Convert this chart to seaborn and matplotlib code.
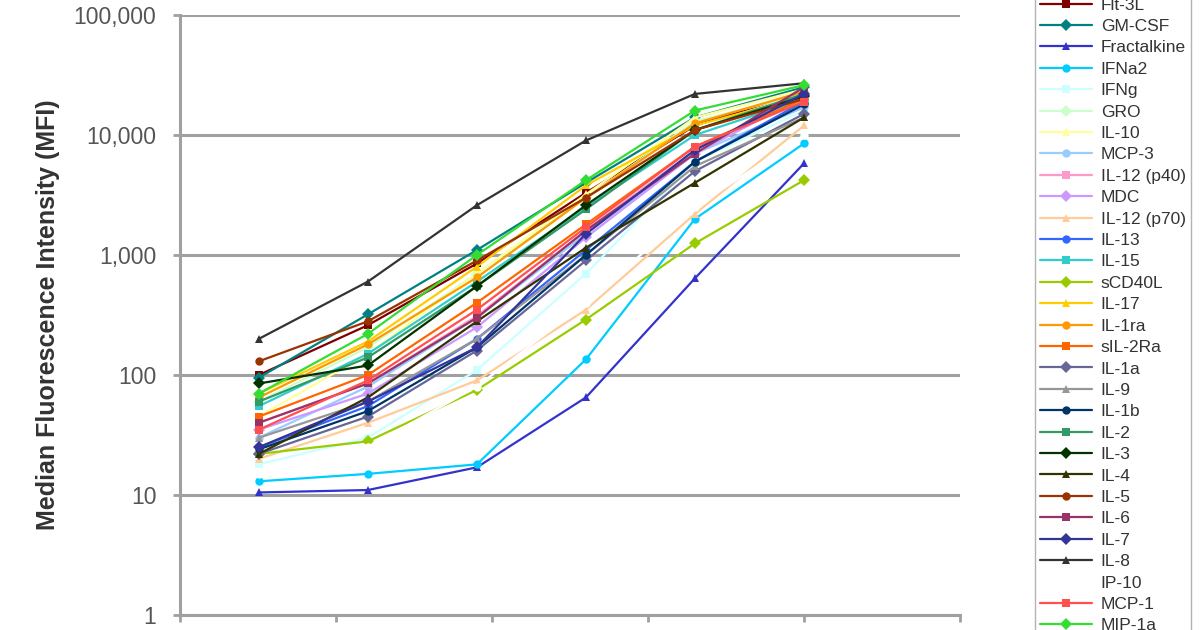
import pandas as pd
import matplotlib
matplotlib.use('Agg')
import matplotlib.pyplot as plt
import matplotlib.ticker as mticker
import seaborn as sns

# standard concentrations (pg/mL), 5-fold dilutions
conc = [3.2, 16, 80, 400, 2000, 10000]

analytes = ["Flt-3L", "GM-CSF", "Fractalkine", "IFNa2", "IFNg", "GRO", "IL-10", "MCP-3",
            "IL-12 (p40)", "MDC", "IL-12 (p70)", "IL-13", "IL-15", "sCD40L", "IL-17",
            "IL-1ra", "sIL-2Ra", "IL-1a", "IL-9", "IL-1b", "IL-2", "IL-3", "IL-4",
            "IL-5", "IL-6", "IL-7", "IL-8", "IP-10", "MCP-1", "MIP-1a"]

# median MFI, one list per analyte
mfi = {
    "Flt-3L":      [100, 260, 850, 3300, 12000, 23000],
    "GM-CSF":      [95, 320, 1100, 4000, 14000, 25000],
    "Fractalkine": [10.5, 11, 17, 65, 640, 5800],
    "IFNa2":       [13, 15, 18, 135, 2000, 8500],
    "IFNg":        [18, 30, 110, 700, 6000, 16000],
    "GRO":         [60, 170, 700, 3000, 13000, 22000],
    "IL-10":       [45, 150, 700, 3200, 14000, 24000],
    "MCP-3":       [30, 80, 300, 1500, 7000, 17000],
    "IL-12 (p40)": [40, 85, 310, 1600, 7500, 22000],
    "MDC":         [35, 70, 250, 1400, 7000, 21000],
    "IL-12 (p70)": [20, 40, 90, 350, 2200, 12000],
    "IL-13":       [25, 55, 200, 1100, 6000, 19000],
    "IL-15":       [55, 150, 600, 2500, 10000, 20000],
    "sCD40L":      [22, 28, 75, 290, 1250, 4200],
    "IL-17":       [70, 190, 800, 3800, 12000, 21000],
    "IL-1ra":      [65, 180, 650, 3000, 12500, 23000],
    "sIL-2Ra":     [45, 100, 400, 1800, 8000, 20000],
    "IL-1a":       [22, 45, 160, 900, 5000, 15000],
    "IL-9":        [30, 60, 200, 1000, 5500, 14000],
    "IL-1b":       [24, 50, 170, 1000, 6000, 18000],
    "IL-2":        [60, 140, 550, 2400, 11000, 22000],
    "IL-3":        [85, 120, 550, 2600, 11000, 21000],
    "IL-4":        [22, 65, 280, 1150, 4000, 14000],
    "IL-5":        [130, 280, 900, 3000, 11000, 20000],
    "IL-6":        [40, 85, 300, 1600, 7000, 25000],
    "IL-7":        [25, 60, 170, 1500, 7500, 22000],
    "IL-8":        [200, 600, 2600, 9000, 22000, 27000],
    "IP-10":       [15, 25, 80, 400, 2500, 10000],
    "MCP-1":       [35, 90, 350, 1700, 8000, 19000],
    "MIP-1a":      [70, 220, 1000, 4200, 16000, 26000],
}

colors = ["#800000", "#008080", "#3333CC", "#00CCFF", "#CCFFFF", "#CCFFCC", "#FFFF99", "#99CCFF",
          "#FF99CC", "#CC99FF", "#FFCC99", "#3366FF", "#33CCCC", "#99CC00", "#FFCC00",
          "#FF9900", "#FF6600", "#666699", "#969696", "#003366", "#339966", "#003300", "#333300",
          "#993300", "#993366", "#333399", "#333333", "#FFFFFF", "#FF5050", "#33DD33"]
marker_cycle = ["s", "D", "^", "o", "s", "D", "^", "o"]

rows = []
for name in analytes:
    for c, v in zip(conc, mfi[name]):
        rows.append({"analyte": name, "conc": c, "mfi": v})
df = pd.DataFrame(rows)

sns.set_theme(style="white")
plt.rcParams['font.family'] = ['Liberation Sans', 'DejaVu Sans']

fig = plt.figure(figsize=(12, 6.3), dpi=100)
ax = fig.add_axes([0.15, 15 / 630, 0.65, 600 / 630])

markers = {n: marker_cycle[i % len(marker_cycle)] for i, n in enumerate(analytes)}
sns.lineplot(data=df, x="conc", y="mfi", hue="analyte", style="analyte",
             hue_order=analytes, style_order=analytes, palette=colors,
             markers=markers, dashes=False, markersize=6, linewidth=1.6,
             markeredgewidth=0, legend="full", ax=ax)

# IP-10 has no visible line in the original
for line in ax.get_lines():
    if line.get_label() == "IP-10":
        line.set_alpha(0)

ax.set_xscale("log")
ax.set_yscale("log")
ax.set_xlim(1, 100000)
ax.set_ylim(1, 100000)
ax.set_yticks([1, 10, 100, 1000, 10000, 100000])
ax.yaxis.set_major_formatter(mticker.FuncFormatter(lambda v, p: f"{v:,.0f}"))
ax.yaxis.set_minor_locator(mticker.NullLocator())
ax.xaxis.set_minor_locator(mticker.NullLocator())
ax.set_xticks([1, 10, 100, 1000, 10000, 100000])
ax.set_xticklabels([])
ax.grid(axis="y", color="#a0a0a0", linewidth=2.2)
ax.set_axisbelow(True)
for side in ["top", "right"]:
    ax.spines[side].set_visible(False)
for side in ["left", "bottom"]:
    ax.spines[side].set_color("#a0a0a0")
    ax.spines[side].set_linewidth(2.2)
ax.tick_params(axis="both", which="major", direction="out", length=5, width=2,
               color="#a0a0a0", labelsize=16.5, labelcolor="#555555", left=True, bottom=True,
               pad=12)
ax.set_xlabel("")
ax.set_ylabel("Median Fluorescence Intensity (MFI)", fontsize=18, fontweight="bold",
              color="#333333", labelpad=10)

handles, labels = ax.get_legend_handles_labels()
ax.get_legend().remove()
fig.legend(handles, labels, loc="upper left", bbox_to_anchor=(0.855, 1.026),
           fontsize=12.5, labelspacing=0.36, handlelength=3.0, handletextpad=0.5,
           frameon=True, edgecolor="#a0a0a0", fancybox=False, borderpad=0.3,
           labelcolor="#333333")

fig.savefig("out.png", dpi=100)
